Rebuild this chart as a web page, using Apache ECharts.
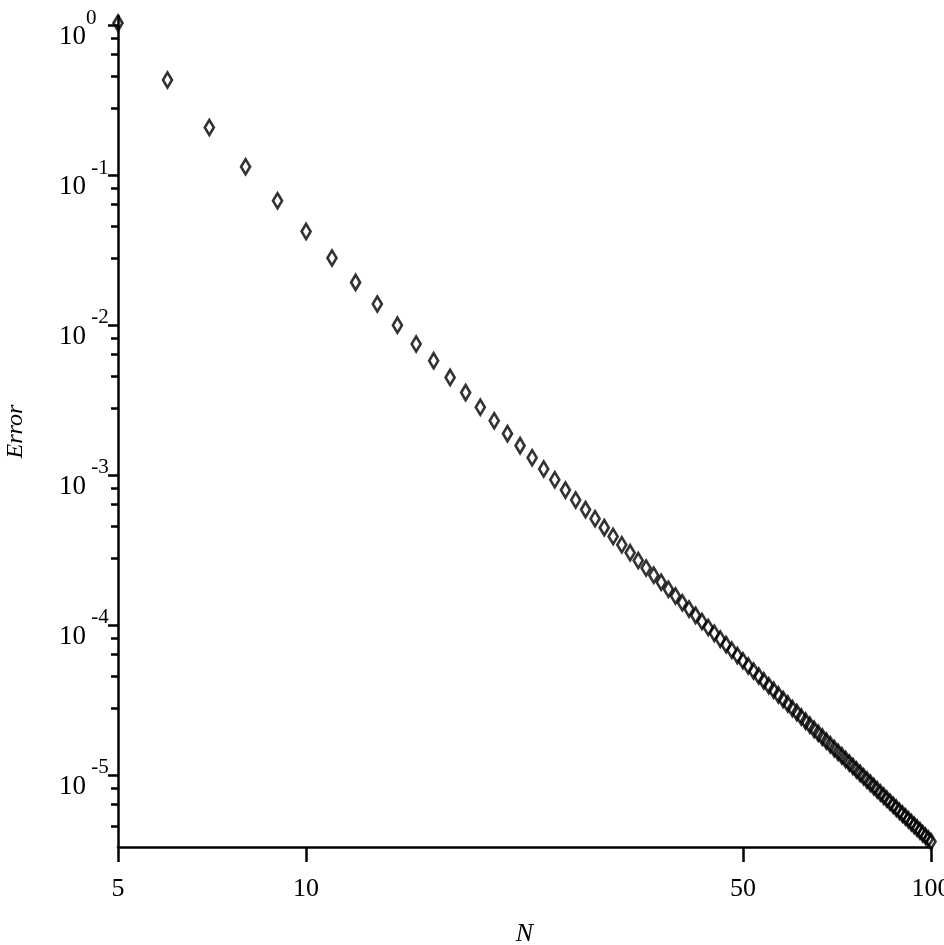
<!DOCTYPE html>
<html>
<head>
<meta charset="utf-8">
<script src="https://cdn.jsdelivr.net/npm/echarts@6/dist/echarts.min.js"></script>
<style>
  html, body { margin: 0; padding: 0; background: #fff; }
  #main { width: 944px; height: 945px; }
</style>
</head>
<body>
<div id="main"></div>
<script>
// N values (x) and error values (y)
var nValues = [5, 6, 7, 8, 9, 10, 11, 12, 13, 14, 15, 16, 17, 18, 19, 20,
  21, 22, 23, 24, 25, 26, 27, 28, 29, 30, 31, 32, 33, 34, 35, 36, 37, 38, 39, 40,
  41, 42, 43, 44, 45, 46, 47, 48, 49, 50, 51, 52, 53, 54, 55, 56, 57, 58, 59, 60,
  61, 62, 63, 64, 65, 66, 67, 68, 69, 70, 71, 72, 73, 74, 75, 76, 77, 78, 79, 80,
  81, 82, 83, 84, 85, 86, 87, 88, 89, 90, 91, 92, 93, 94, 95, 96, 97, 98, 99, 100];
var errValues = [1.031, 0.430, 0.2077, 0.1136, 0.0674, 0.04207, 0.02797, 0.01923, 0.01380, 0.00997,
  0.00747, 0.00578, 0.00447, 0.00354, 0.00283, 0.00230, 0.001885, 0.001568, 0.001302, 0.001095,
  9.28e-4, 7.92e-4, 6.80e-4, 5.87e-4, 5.10e-4, 4.45e-4, 3.89e-4, 3.42e-4, 3.03e-4, 2.687e-4,
  2.394e-4, 2.145e-4, 1.923e-4, 1.727e-4, 1.558e-4, 1.404e-4, 1.274e-4, 1.157e-4, 1.053e-4, 9.61e-5,
  8.78e-5, 8.04e-5, 7.38e-5, 6.78e-5, 6.24e-5, 5.76e-5, 5.32e-5, 4.92e-5, 4.56e-5, 4.23e-5,
  3.93e-5, 3.66e-5, 3.41e-5, 3.18e-5, 2.97e-5, 2.77e-5, 2.60e-5, 2.43e-5, 2.28e-5, 2.14e-5,
  2.01e-5, 1.894e-5, 1.783e-5, 1.680e-5, 1.585e-5, 1.496e-5, 1.414e-5, 1.337e-5, 1.265e-5, 1.198e-5,
  1.135e-5, 1.076e-5, 1.022e-5, 9.70e-6, 9.22e-6, 8.77e-6, 8.34e-6, 7.94e-6, 7.57e-6, 7.21e-6,
  6.88e-6, 6.56e-6, 6.27e-6, 5.99e-6, 5.72e-6, 5.47e-6, 5.24e-6, 5.01e-6, 4.80e-6, 4.60e-6,
  4.41e-6, 4.23e-6, 4.05e-6, 3.89e-6, 3.73e-6, 3.59e-6];

// tick values
var xTicks = [5, 10, 50, 100];
var yMajorTicks = [1, 0.1, 0.01, 0.001, 0.0001, 0.00001];
var yMinorTicks = [0.815, 0.638, 0.457, 0.279,
  0.0815, 0.0638, 0.0457, 0.0279,
  0.00815, 0.00638, 0.00457, 0.00279,
  8.15e-4, 6.38e-4, 4.57e-4, 2.79e-4,
  8.15e-5, 6.38e-5, 4.57e-5, 2.79e-5,
  8.15e-6, 6.38e-6, 4.57e-6];

var points = nValues.map(function (n, i) { return [n, errValues[i]]; });

var chart = echarts.init(document.getElementById('main'));
var font = 'Liberation Serif';
var yMin = 3.3e-6, yMax = 1.15;

var option = {
  animation: false,
  backgroundColor: '#fff',
  grid: { left: 118, right: 13, top: 16, bottom: 98, outerBoundsMode: 'none', containLabel: false },
  xAxis: {
    type: 'log',
    logBase: 10,
    min: 5,
    max: 100,
    name: 'N',
    nameLocation: 'middle',
    nameGap: 74,
    nameTextStyle: { fontFamily: font, fontStyle: 'italic', fontSize: 26, color: '#000' },
    axisLine: { lineStyle: { color: '#000', width: 2.5 } },
    axisTick: { customValues: xTicks, length: 15, inside: false, lineStyle: { color: '#000', width: 2.5 } },
    axisLabel: { customValues: xTicks, margin: 29, fontFamily: font, fontSize: 26, color: '#000' },
    minorTick: { show: false },
    splitLine: { show: false }
  },
  yAxis: [{
    type: 'log',
    logBase: 10,
    min: yMin,
    max: yMax,
    name: 'Error',
    nameLocation: 'middle',
    nameGap: 90,
    nameTextStyle: { fontFamily: font, fontStyle: 'italic', fontSize: 24, color: '#000' },
    axisLine: { lineStyle: { color: '#000', width: 2.5 } },
    axisTick: { customValues: yMajorTicks, length: 10, lineStyle: { color: '#000', width: 2.5 } },
    axisLabel: {
      customValues: yMajorTicks,
      margin: 59,
      align: 'left',
      padding: [8, 0, 0, 0],
      formatter: function (v) {
        var e = Math.round(Math.log10(v));
        return '{b|10}{s|' + (e < 0 ? ' ' + e : e) + '}';
      },
      rich: {
        b: { fontFamily: font, fontSize: 27, color: '#000', verticalAlign: 'bottom', padding: [16, 0, 0, 0] },
        s: { fontFamily: font, fontSize: 21, color: '#000', verticalAlign: 'top' }
      }
    },
    splitLine: { show: false }
  }, {
    // minor ticks only
    type: 'log',
    logBase: 10,
    min: yMin,
    max: yMax,
    position: 'left',
    axisLine: { show: false },
    axisTick: { customValues: yMinorTicks, length: 7, lineStyle: { color: '#000', width: 2.5 } },
    axisLabel: { show: false },
    splitLine: { show: false }
  }],
  series: [{
    type: 'scatter',
    data: points,
    symbol: 'diamond',
    symbolSize: [9, 15],
    itemStyle: { color: 'rgba(0,0,0,0)', borderColor: '#000', borderWidth: 2.8 }
  }]
};

chart.setOption(option);
window.addEventListener('resize', function () { chart.resize(); });
</script>
</body>
</html>
